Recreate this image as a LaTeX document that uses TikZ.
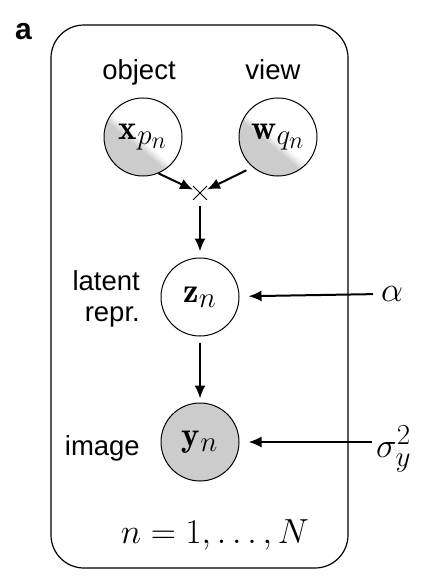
\documentclass[tikz,border=0pt]{standalone}
\usepackage{graphicx}
\usepackage{fontspec}
\setsansfont{Liberation Sans}
\usetikzlibrary{arrows.meta,shapes.misc}
\definecolor{shadegray}{gray}{0.80}
\newcommand{\mybigmath}[1]{\scalebox{1.4}{\Huge$#1$}}
\begin{document}
\begin{tikzpicture}[x=1pt,y=-1pt,
 lab/.style={font=\fontsize{27.5}{31}\selectfont\sffamily, inner sep=0pt},
 mth/.style={inner sep=0pt},
 var/.style={circle, draw, line width=1pt, minimum size=78pt, inner sep=0pt},
 obs/.style={var, fill=shadegray},
 half/.style={var},
 arr/.style={line width=2pt, -{Latex[length=13pt,width=11pt]}},
 plate/.style={draw, line width=1.2pt, rounded corners=33pt, minimum width=297pt, minimum height=543pt, inner sep=0pt}]
\useasboundingbox (0,0) rectangle (422,580);
\node[plate] (plate) at (199.5,296.5) {};
\node[lab, font=\fontsize{30}{32}\selectfont\sffamily\bfseries, anchor=base west] (a) at (15,40) {a};
\node[lab, anchor=base] (object) at (139,80) {object};
\node[lab, anchor=base] (view) at (273,80) {view};
\coordinate (xc) at (143,137);
\coordinate (wc) at (278,137);
\foreach \cc in {xc,wc}{
  \begin{scope}[shift={(\cc)}]
    \clip (0,0) circle (39pt);
    \foreach \a/\b/\g in {-70/-10/100, -10/-8.5/82, -8.5/-7/64, -7/-5.5/46, -5.5/-4/28, -4/-2.5/12}{
      \fill[shadegray!\g!white]
        ({\a*0.643+60*0.766},{\a*(-0.766)+60*0.643}) --
        ({\a*0.643-60*0.766},{\a*(-0.766)-60*0.643}) --
        ({\b*0.643-60*0.766},{\b*(-0.766)-60*0.643}) --
        ({\b*0.643+60*0.766},{\b*(-0.766)+60*0.643}) -- cycle;
    }
  \end{scope}}
\node[half] (x) at (xc) {\mybigmath{\mathbf{x}_{p_n}}};
\node[half] (w) at (wc) {\mybigmath{\mathbf{w}_{q_n}}};
\node[draw, cross out, line width=0.9pt, minimum size=13pt, inner sep=0pt] (c) at (200,193) {};
\node[var] (z) at (200,297) {\mybigmath{\mathbf{z}_n}};
\node[obs] (y) at (200,442) {\mybigmath{\mathbf{y}_n}};
\node[lab, anchor=base east] (latent) at (140,290) {latent};
\node[lab, anchor=base east] (repr) at (140,321) {repr.};
\node[lab, anchor=base east] (image) at (140,455) {image};
\node[mth, anchor=west] (alpha) at (381,294) {\mybigmath{\alpha}};
\node[mth, anchor=west] (sigma) at (376,449) {\mybigmath{\sigma_y^2}};
\node[mth, anchor=base] (n) at (215,543) {\mybigmath{n=1,\ldots,N}};
\draw[arr] (x.-67) -- (c);
\draw[arr, shorten <=7pt] (w.230) -- (c);
\draw[arr, shorten <=6pt, shorten >=6pt] (c) -- (z);
\draw[arr, shorten <=6pt, shorten >=4pt] (z) -- (y);
\draw[arr, shorten <=8pt, shorten >=9pt] (alpha.west) -- (z);
\draw[arr, shorten <=4pt, shorten >=9pt] (sigma.west |- y) -- (y);
\end{tikzpicture}
\end{document}
